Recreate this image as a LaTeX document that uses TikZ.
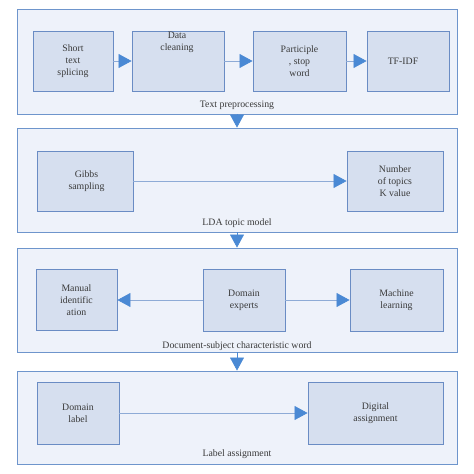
\documentclass[tikz,border=0pt]{standalone}
\usepackage{fontspec}
\setmainfont{Liberation Serif}
\usetikzlibrary{arrows.meta,positioning}
\definecolor{panelfill}{HTML}{EEF2FA}
\definecolor{panelline}{HTML}{6E95CC}
\definecolor{boxfill}{HTML}{D6DFEF}
\definecolor{boxline}{HTML}{6A8CC4}
\definecolor{arrowblue}{HTML}{4A89D4}
\definecolor{connline}{HTML}{8EABD6}
\definecolor{txtcol}{HTML}{3A3A3A}
\tikzset{
  panel/.style={draw=panelline, fill=panelfill, line width=0.9pt, inner sep=0pt},
  stepbox/.style={draw=boxline, fill=boxfill, line width=0.9pt, inner sep=0pt, align=center,
    font=\fontsize{9.8}{11.7}\selectfont, text=txtcol},
  txt/.style={inner sep=0pt, align=center, font=\fontsize{9.8}{11.7}\selectfont, text=txtcol},
  conn/.style={draw=connline, line width=0.6pt, -{Triangle[length=13pt,width=14pt,color=arrowblue]}},
  down/.style={draw=arrowblue, line width=0.6pt, -{Triangle[length=13pt,width=14pt,color=arrowblue]}},
}
\begin{document}
\begin{tikzpicture}[x=1pt,y=-1pt]
\useasboundingbox (0,0) rectangle (474,474);
% panels
\node[panel, minimum width=440pt, minimum height=105pt] (p1) at (237,61.5) {};
\node[panel, minimum width=440pt, minimum height=104pt] (p2) at (237,180) {};
\node[panel, minimum width=440pt, minimum height=104pt] (p3) at (237,300) {};
\node[panel, minimum width=440pt, minimum height=93pt] (p4) at (237,417.5) {};
% panel labels
\node[txt] (l1) at (237,105) {Text preprocessing};
\node[txt] (l2) at (237,223) {LDA topic model};
\node[txt] (l3) at (237,346) {Document-subject characteristic word};
\node[txt] (l4) at (237,454) {Label assignment};
% panel 1
\node[stepbox, minimum width=80pt, minimum height=60pt] (a1) at (73,61) {Short\\text\\splicing};
\node[stepbox, minimum width=92pt, minimum height=60pt] (a2) at (178,61) {};
\node[txt, anchor=north] (a2t) at (177,32) {Data\\cleaning};
\node[stepbox, minimum width=93pt, minimum height=60pt] (a3) at (299.5,61) {Participle\\, stop\\word};
\node[stepbox, minimum width=82pt, minimum height=60pt] (a4) at (408,61) {\hspace*{-10pt}TF-IDF};
\draw[conn] (a1) -- (a2);
\draw[conn] (a2) -- (a3);
\draw[conn] (a3) -- (a4);
% panel 2
\node[stepbox, minimum width=96pt, minimum height=60pt] (b1) at (85,181) {\hspace*{3pt}Gibbs\\\hspace*{3pt}sampling};
\node[stepbox, minimum width=96pt, minimum height=60pt] (b2) at (395,181) {Number\\of topics\\K value};
\draw[conn] (b1) -- (b2);
% panel 3
\node[stepbox, minimum width=81pt, minimum height=61pt] (c1) at (76.5,300) {Manual\\identific\\ation};
\node[stepbox, minimum width=82pt, minimum height=62pt] (c2) at (244,300) {Domain\\experts};
\node[stepbox, minimum width=93pt, minimum height=62pt] (c3) at (396.5,300) {Machine\\learning};
\draw[conn] (c2) -- (c1);
\draw[conn] (c2) -- (c3);
% panel 4
\node[stepbox, minimum width=82pt, minimum height=62pt] (d1) at (78,413) {Domain\\label};
\node[stepbox, minimum width=135pt, minimum height=62pt] (d2) at (375.5,413) {Digital\\assignment};
\draw[conn] (d1) -- (d2);
% down arrows
\draw[down] (p1.south) -- (p2.north);
\draw[down] (p2.south) -- (p3.north);
\draw[down] (p3.south) -- (p4.north);
\end{tikzpicture}
\end{document}
